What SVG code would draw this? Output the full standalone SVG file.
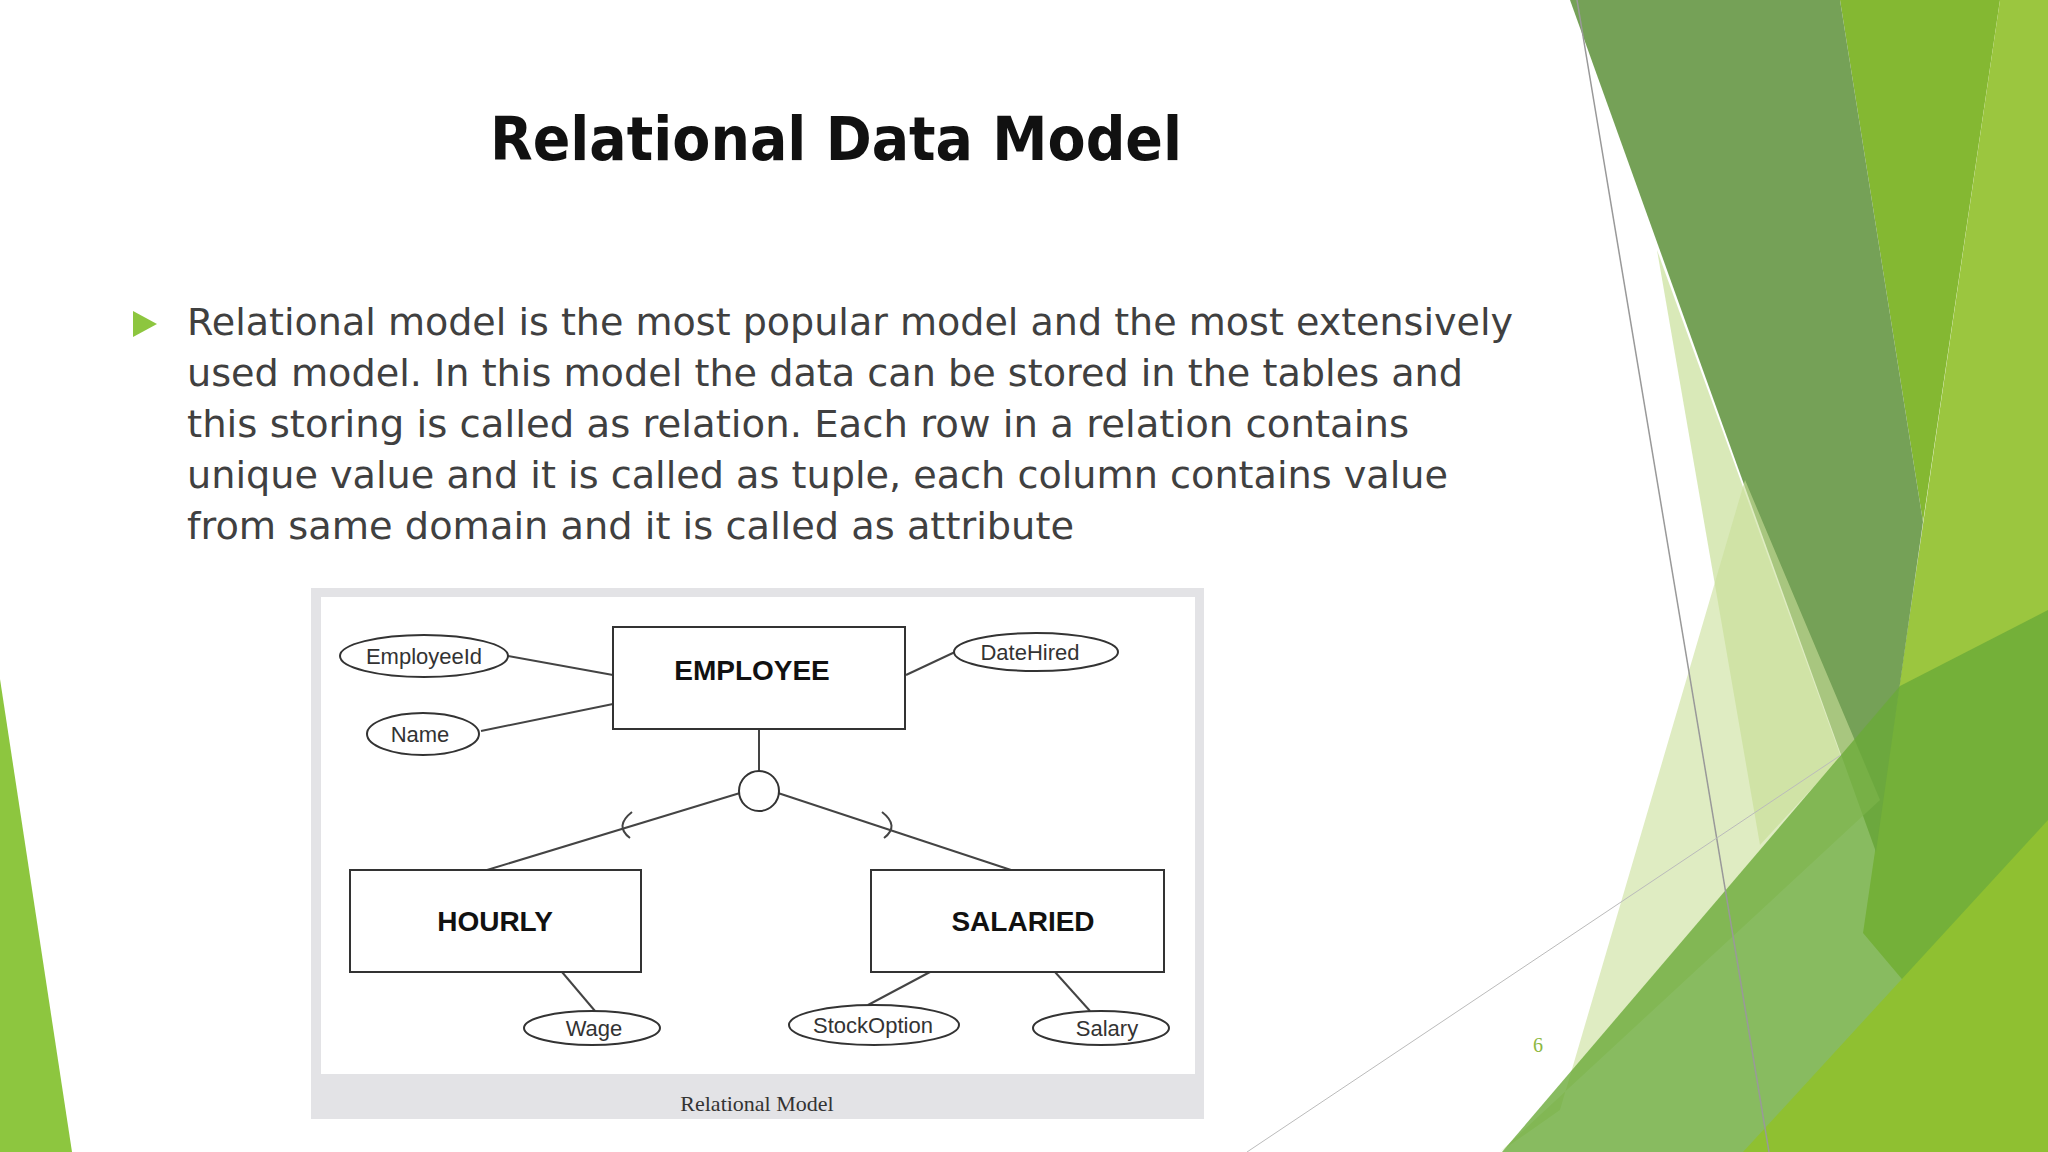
<svg xmlns="http://www.w3.org/2000/svg" width="2048" height="1152" viewBox="0 0 2048 1152">
<style>
.ent{fill:#fff;stroke:#333;stroke-width:2}
.att{fill:#fff;stroke:#333;stroke-width:2}
.cn{stroke:#444;stroke-width:2;fill:none}
.et{font-family:"Liberation Sans",Arial,sans-serif;font-weight:bold;font-size:28px;fill:#111;text-anchor:middle}
.at{font-family:"Liberation Sans",Arial,sans-serif;font-size:22px;fill:#333;text-anchor:middle}
.body{font-family:"DejaVu Sans","Open Sans",sans-serif;font-size:38px;fill:#404040}
</style>
<rect width="2048" height="1152" fill="#fff"/>
<g id="background">
<polygon points="0,679 72,1152 0,1152" fill="#8DC63F"/>
<polygon points="1840,0 2000,0 1923,522" fill="#84B832"/>
<polygon points="2000,0 2048,0 2048,1152 1863,933" fill="#9BC63F"/>
<polygon points="1570,0 1840,0 1923,522 1876,852" fill="#6E9C4E" opacity="0.95"/>
<polygon points="1657,250 1841,757 1760,845" fill="#C9E09A" opacity="0.7"/>
<polygon points="1745,480 1560,1110 1500,1152 1880,800" fill="#C9E09A" opacity="0.6"/>
<polygon points="1502,1152 1900,686 2048,610 2048,1152" fill="#6AAA38" opacity="0.8"/>
<polygon points="1743,1152 2048,820 2048,1152" fill="#8FC031"/>
<line x1="1577" y1="0" x2="1769" y2="1152" stroke="#999" stroke-width="1.5"/>
<line x1="1247" y1="1152" x2="1841" y2="755" stroke="#bbb" stroke-width="1"/>
<text x="1533" y="1052" font-family="Liberation Serif,serif" font-size="20" fill="#8DB83F">6</text>
</g>
<text x="836" y="160" font-family="DejaVu Sans,sans-serif" font-weight="bold" font-size="60" fill="#111" text-anchor="middle" textLength="692" lengthAdjust="spacingAndGlyphs">Relational Data Model</text>
<polygon points="133,311 157,324 133,337" fill="#8DC63F"/>
<g class="body">
<text x="187" y="335" textLength="1326" lengthAdjust="spacingAndGlyphs">Relational model is the most popular model and the most extensively</text>
<text x="187" y="386" textLength="1276" lengthAdjust="spacingAndGlyphs">used model. In this model the data can be stored in the tables and</text>
<text x="187" y="437" textLength="1222" lengthAdjust="spacingAndGlyphs">this storing is called as relation. Each row in a relation contains</text>
<text x="187" y="488" textLength="1261" lengthAdjust="spacingAndGlyphs">unique value and it is called as tuple, each column contains value</text>
<text x="187" y="539" textLength="887" lengthAdjust="spacingAndGlyphs">from same domain and it is called as attribute</text>
</g>
<rect x="311" y="588" width="893" height="531" fill="#E3E3E6"/>
<rect x="321" y="597" width="874" height="477" fill="#fff"/>
<text x="757" y="1111" font-family="Liberation Serif,serif" font-size="22" fill="#333" text-anchor="middle">Relational Model</text>
<g id="connectors">
<line class="cn" x1="508" y1="656" x2="613" y2="675"/>
<line class="cn" x1="481" y1="731" x2="613" y2="704"/>
<line class="cn" x1="906" y1="675" x2="955" y2="652"/>
<line class="cn" x1="759" y1="729" x2="759" y2="771"/>
<line class="cn" x1="740" y1="793" x2="487" y2="870"/>
<line class="cn" x1="778" y1="793" x2="1011" y2="870"/>
<path class="cn" d="M632,812 Q614,826 630,838"/>
<path class="cn" d="M882,812 Q900,826 884,838"/>
<line class="cn" x1="562" y1="972" x2="595" y2="1011"/>
<line class="cn" x1="930" y1="972" x2="868" y2="1005"/>
<line class="cn" x1="1055" y1="972" x2="1090" y2="1011"/>
<circle cx="759" cy="791" r="20" class="att"/>
</g>
<g id="employee"><rect class="ent" x="613" y="627" width="292" height="102"/><text class="et" x="752" y="680">EMPLOYEE</text></g>
<g id="hourly"><rect class="ent" x="350" y="870" width="291" height="102"/><text class="et" x="495" y="931">HOURLY</text></g>
<g id="salaried"><rect class="ent" x="871" y="870" width="293" height="102"/><text class="et" x="1023" y="931">SALARIED</text></g>
<g id="employeeid"><ellipse class="att" cx="424" cy="656" rx="84" ry="21"/><text class="at" x="424" y="664">EmployeeId</text></g>
<g id="name"><ellipse class="att" cx="423" cy="734" rx="56" ry="21"/><text class="at" x="420" y="742">Name</text></g>
<g id="datehired"><ellipse class="att" cx="1036" cy="652" rx="82" ry="19"/><text class="at" x="1030" y="660">DateHired</text></g>
<g id="wage"><ellipse class="att" cx="592" cy="1028" rx="68" ry="17"/><text class="at" x="594" y="1036">Wage</text></g>
<g id="stockoption"><ellipse class="att" cx="874" cy="1025" rx="85" ry="20"/><text class="at" x="873" y="1033">StockOption</text></g>
<g id="salary"><ellipse class="att" cx="1101" cy="1028" rx="68" ry="17"/><text class="at" x="1107" y="1036">Salary</text></g>
</svg>
